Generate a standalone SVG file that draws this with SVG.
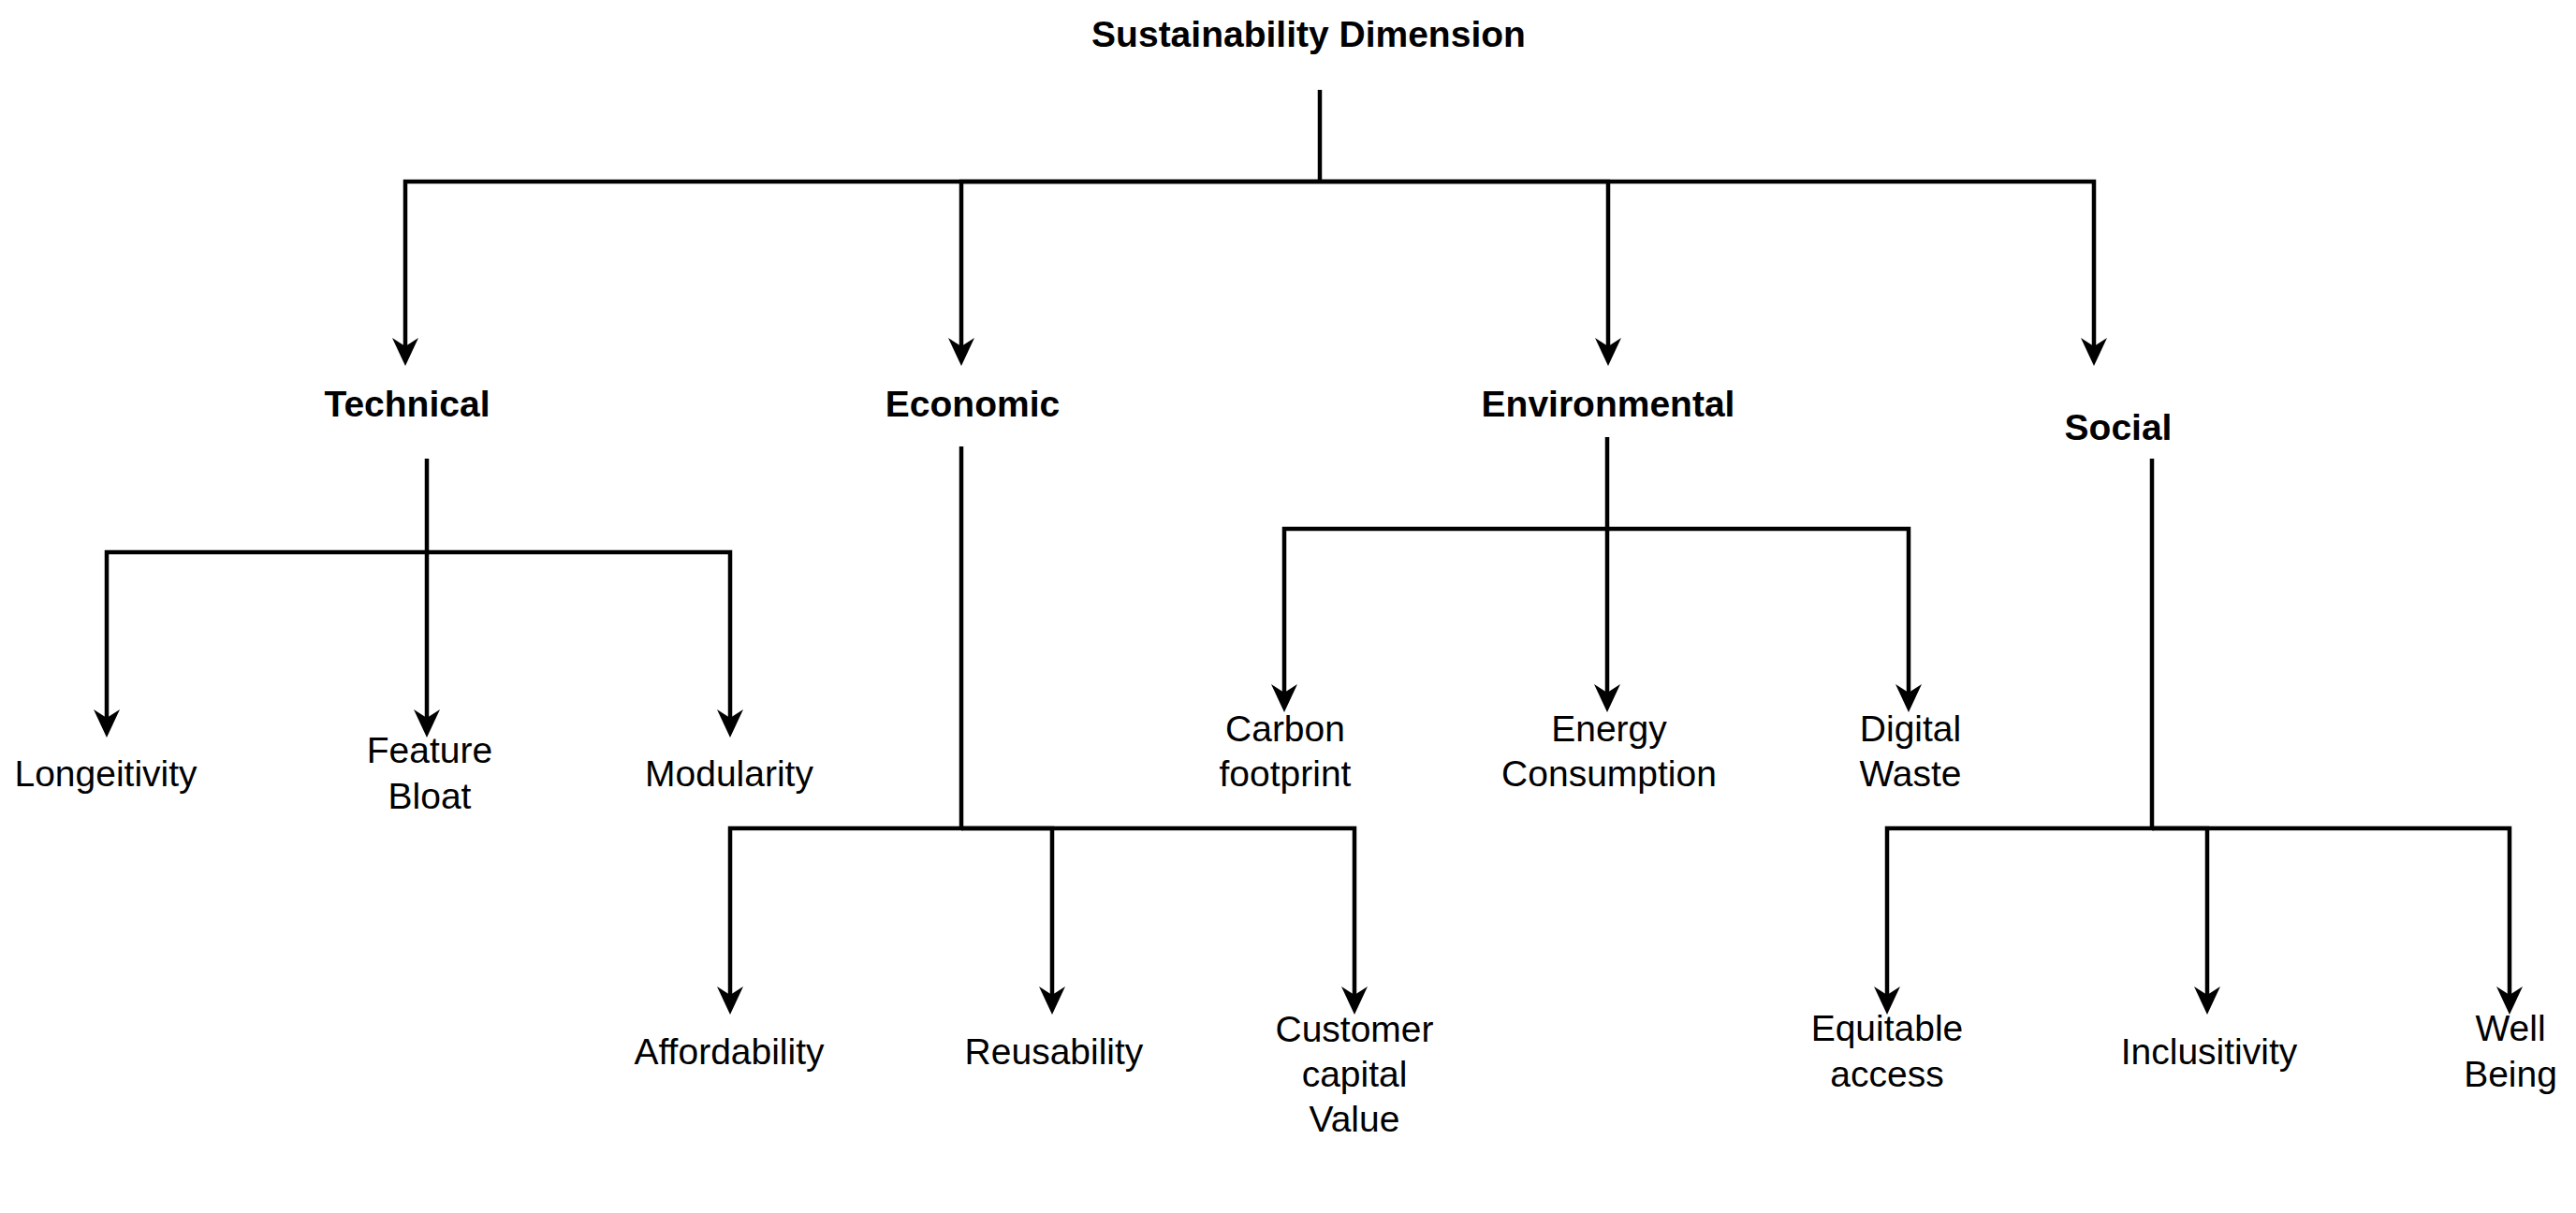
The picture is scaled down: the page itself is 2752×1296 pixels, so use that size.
<svg xmlns="http://www.w3.org/2000/svg" width="2752" height="1296" viewBox="0 0 2752 1296">
<style>
text{font-family:"Liberation Sans",Arial,sans-serif;font-size:39px;fill:#000;text-anchor:middle}
.b{font-weight:bold}
.c{fill:none;stroke:#000;stroke-width:4.5;marker-end:url(#arr)}
.p{fill:none;stroke:#000;stroke-width:4.5}
</style>
<defs>
<marker id="arr" markerUnits="userSpaceOnUse" markerWidth="32" markerHeight="30" refX="18" refY="14" orient="auto" overflow="visible">
<path d="M0,0 L30,14 L0,28 L9,14 Z" fill="#000"/>
</marker>
</defs>
<rect width="2752" height="1296" fill="#fff"/>
<g id="connectors">
<path class="p" d="M1410,96 V194"/>
<path class="c" d="M1410,194 H433 V379"/>
<path class="c" d="M1410,194 H1027 V379"/>
<path class="c" d="M1410,194 H1718 V379"/>
<path class="c" d="M1410,194 H2237 V379"/>
<path class="c" d="M456,490 V590 H114 V776"/>
<path class="c" d="M456,590 V776"/>
<path class="c" d="M456,590 H780 V776"/>
<path class="c" d="M1027,477 V885 H780 V1072"/>
<path class="c" d="M1027,885 H1124 V1072"/>
<path class="c" d="M1027,885 H1447 V1072"/>
<path class="c" d="M1717,467 V565 H1372 V749"/>
<path class="c" d="M1717,565 V749"/>
<path class="c" d="M1717,565 H2039 V749"/>
<path class="c" d="M2299,490 V885 H2016 V1072"/>
<path class="c" d="M2299,885 H2358 V1072"/>
<path class="c" d="M2299,885 H2681 V1072"/>
</g>
<g id="root"><text class="b" x="1398" y="50">Sustainability Dimension</text></g>
<g id="technical"><text class="b" x="435" y="445">Technical</text></g>
<g id="economic"><text class="b" x="1039" y="445">Economic</text></g>
<g id="environmental"><text class="b" x="1718" y="445">Environmental</text></g>
<g id="social"><text class="b" x="2263" y="470">Social</text></g>
<g id="longeitivity"><text x="113" y="840">Longeitivity</text></g>
<g id="feature-bloat"><text x="459" y="815">Feature</text><text x="459" y="864">Bloat</text></g>
<g id="modularity"><text x="779" y="840">Modularity</text></g>
<g id="affordability"><text x="779" y="1137">Affordability</text></g>
<g id="reusability"><text x="1126" y="1137">Reusability</text></g>
<g id="customer-capital-value"><text x="1447" y="1113">Customer</text><text x="1447" y="1161">capital</text><text x="1447" y="1209">Value</text></g>
<g id="carbon-footprint"><text x="1373" y="792">Carbon</text><text x="1373" y="840">footprint</text></g>
<g id="energy-consumption"><text x="1719" y="792">Energy</text><text x="1719" y="840">Consumption</text></g>
<g id="digital-waste"><text x="2041" y="792">Digital</text><text x="2041" y="840">Waste</text></g>
<g id="equitable-access"><text x="2016" y="1112">Equitable</text><text x="2016" y="1161">access</text></g>
<g id="inclusitivity"><text x="2360" y="1137">Inclusitivity</text></g>
<g id="well-being"><text x="2682" y="1112">Well</text><text x="2682" y="1161">Being</text></g>
</svg>
